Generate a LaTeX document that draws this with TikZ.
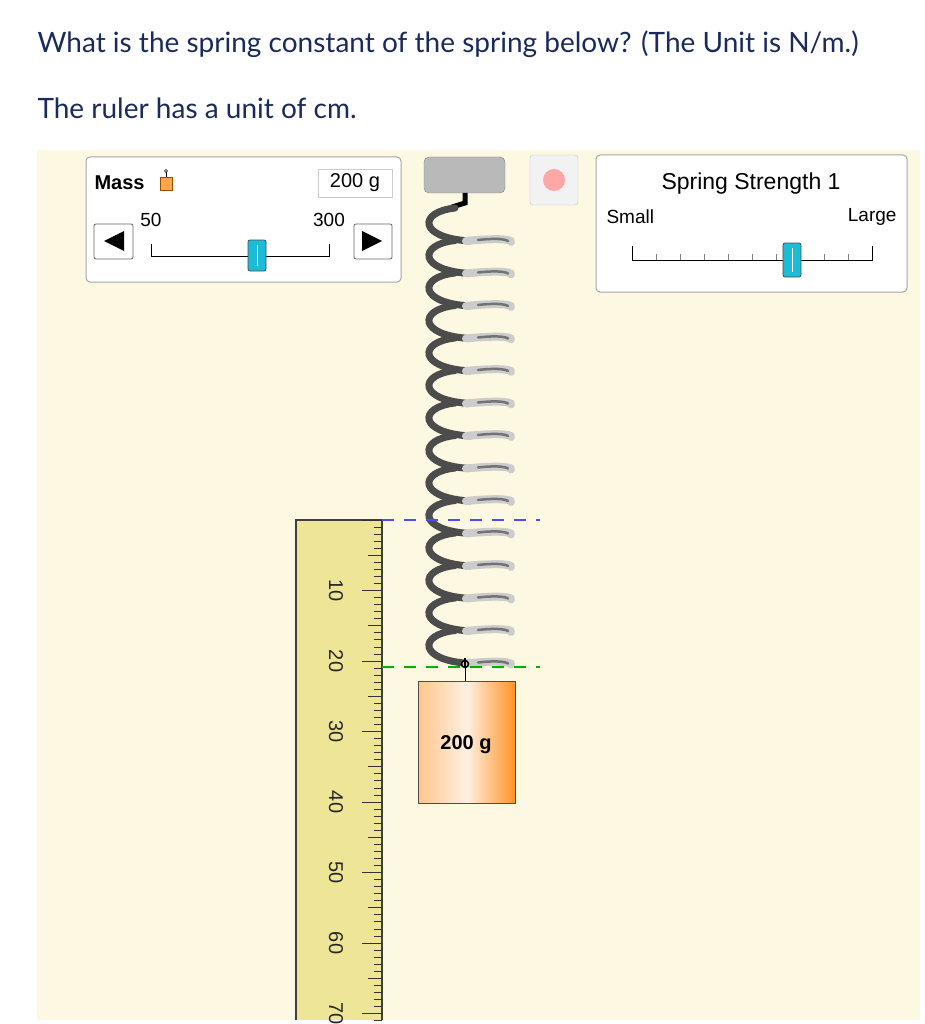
\documentclass[tikz,border=0pt]{standalone}
\usepackage{fontspec}
\setmainfont{Lato}
\newfontfamily\ui{Liberation Sans}
\definecolor{bgc}{HTML}{FDF8E2}
\definecolor{rulc}{HTML}{EFE597}
\definecolor{thc}{HTML}{1DBCD6}
\definecolor{navy}{HTML}{1A2A5E}
\begin{document}
\begin{tikzpicture}[x=1pt,y=-1pt,
  panel/.style={draw=gray!70,fill=white,rounded corners=4pt,line width=1pt},
  thumb/.style={draw=black!70,fill=thc,rounded corners=2pt,line width=0.8pt},
  coil/.style={line width=7pt,draw=gray!60!black,line cap=round},
  front/.style={line width=8pt,draw=gray!40,line cap=round}]
\useasboundingbox (0,0) rectangle (925,1024);
\fill[white] (0,0) rectangle (925,1024);
\node[anchor=west,text=navy,font=\fontsize{28}{32}\selectfont] (q1) at (34,44) {What is the spring constant of the spring below? (The Unit is N/m.)};
\node[anchor=west,text=navy,font=\fontsize{28}{32}\selectfont] (q2) at (34,108) {The ruler has a unit of cm.};
\fill[bgc] (37,150) rectangle (920,1020);
% mass panel
\draw[panel] (86,157) rectangle (401,282);
\node[anchor=west,font=\ui\bfseries\fontsize{20}{24}\selectfont] (ml) at (91,183) {Mass};
\draw[fill=orange!70,draw=orange!60!black] (160,177) rectangle (172,190);
\draw (166,177) -- (166,172); \draw (166,171) circle (1.5);
\draw[draw=gray!40,fill=white] (318,169) rectangle (392,197);
\node[font=\ui\fontsize{20}{24}\selectfont] (mv) at (355,183) {200 g};
\node[font=\ui\fontsize{19}{22}\selectfont] (m50) at (151,220) {50};
\node[font=\ui\fontsize{19}{22}\selectfont] (m300) at (329,220) {300};
\draw[draw=gray!80!black,fill=white,rounded corners=2pt,line width=0.8pt] (94,224) rectangle (133,259);
\fill (104,241) -- (124,231) -- (124,251) -- cycle;
\draw[draw=gray!80!black,fill=white,rounded corners=2pt,line width=0.8pt] (354,224) rectangle (392,259);
\fill (382,241) -- (362,231) -- (362,251) -- cycle;
\draw[line width=0.8pt] (151,244) -- (151,256) -- (329,256) -- (329,244);
\draw[thumb] (248,240) rectangle (266,271);
\draw[white,line width=1pt] (257,245) -- (257,266);
% strength panel
\draw[panel] (596,155) rectangle (907,292);
\node[font=\ui\fontsize{23}{27}\selectfont] (st) at (751,184) {Spring Strength 1};
\node[anchor=west,font=\ui\fontsize{19}{22}\selectfont] (sm) at (603,217) {Small};
\node[anchor=east,font=\ui\fontsize{19}{22}\selectfont] (lg) at (900,217) {Large};
\draw[line width=0.8pt] (632,246) -- (632,260) -- (872,260) -- (872,246);
\foreach \i in {1,...,9} \draw[gray] (632+\i*24,254) -- (632+\i*24,260);
\draw[thumb] (783,243) rectangle (801,277);
\draw[white,line width=1pt] (792,248) -- (792,272);
% stop button
\draw[draw=gray!50,fill=gray!10,rounded corners=3pt] (530,155) rectangle (578,205);
\fill[red!35] (554,180) circle (11);
% spring top
\draw[draw=gray,fill=gray!55,rounded corners=5pt] (424,157) rectangle (505,193);
\draw[line width=5pt] (465,193) -- (465,203) -- (452,207);
\foreach \k in {0,...,13} {
  \pgfmathsetmacro\y{208+\k*32.5}
  \draw[coil] (455,\y) .. controls (418,\y+4) and (418,\y+30) .. (470,\y+33);
  \draw[front] (466,\y+33) .. controls (495,\y+30) and (512,\y+31) .. (511,\y+34);
  \draw[line width=2.5pt,black!55,line cap=round] (478,\y+32) .. controls (495,\y+30) and (505,\y+31) .. (508,\y+33);
}
% hook
\draw[line width=1.2pt] (465,658) -- (465,668); \draw[line width=1.5pt] (465,664) circle (3.5);
\draw[line width=1pt] (465,668) -- (465,681);
% mass block
\shade[left color=orange!45,right color=orange!85,middle color=orange!12,shading angle=90] (418,681) rectangle (515,803);
\draw[gray!60!black] (418,681) rectangle (515,803);
\node[font=\ui\bfseries\fontsize{20}{24}\selectfont] (bl) at (466,745) {200 g};
% ruler
\fill[rulc] (296,520) rectangle (382,1020);
\draw[gray!50!black,line width=1.2pt] (296,1020) -- (296,520) -- (382,520) -- (382,1020);
\foreach \c in {0,...,71} {
  \pgfmathsetmacro\yy{520+\c*7.05}
  \pgfmathtruncatemacro\r{mod(\c,10)}
  \ifnum\r=0 \draw[gray!40!black,line width=0.8pt] (362,\yy) -- (382,\yy);
  \else\ifnum\r=5 \draw[gray!40!black,line width=0.8pt] (368,\yy) -- (382,\yy);
  \else \draw[gray!40!black,line width=0.8pt] (374,\yy) -- (382,\yy); \fi\fi
}
\foreach \n in {10,20,...,70} \node[rotate=-90,font=\ui\fontsize{20}{24}\selectfont,text=gray!30!black] at (336,520+\n*7.05) {\n};
% reference lines
\draw[blue!70,dash pattern=on 12pt off 10pt,line width=1.3pt] (382,520) -- (540,520);
\draw[green!70!black,dash pattern=on 12pt off 10pt,line width=1.3pt] (382,667) -- (540,667);
\end{tikzpicture}
\end{document}
